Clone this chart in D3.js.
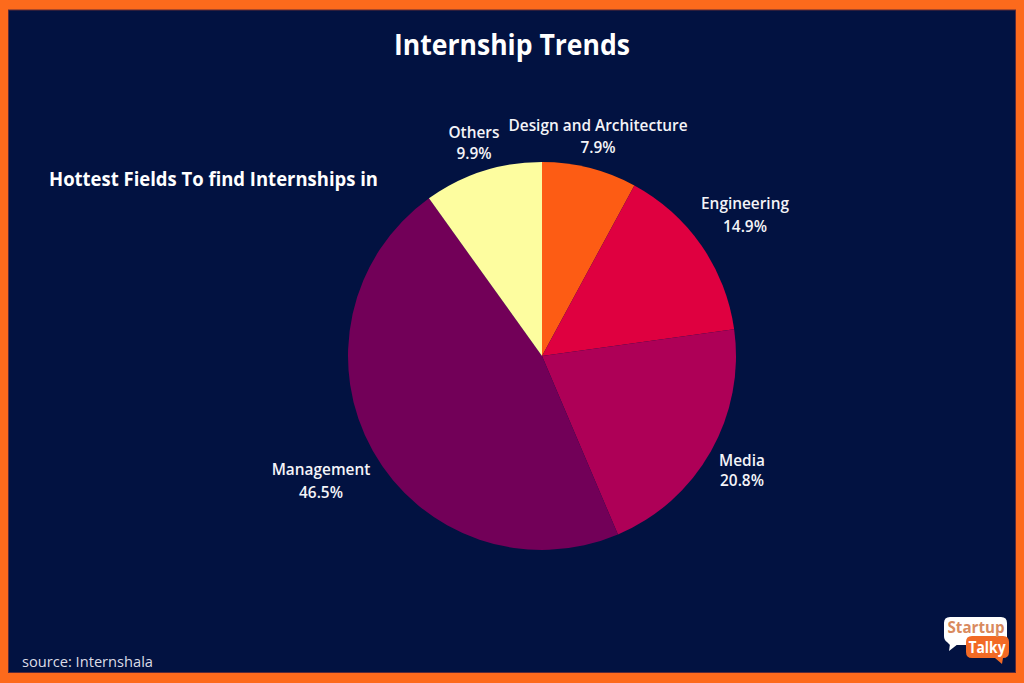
<!DOCTYPE html>
<html><head><meta charset="utf-8">
<script src="https://cdnjs.cloudflare.com/ajax/libs/d3/7.8.5/d3.min.js"></script>
<style>html,body{margin:0;padding:0;background:#fff}svg{display:block}text{font-family:"Open Sans",sans-serif}</style>
</head><body><div id="c"></div>
<script>
const categories=["Design and Architecture","Engineering","Media","Management","Others"];
const values=[7.9,14.9,20.8,46.5,9.9];
const colors=["#fd5c14","#df0040","#ae0057","#720058","#fdfd9f"];
const labelX=[598,745,742,321,474];
const nameY=[131,209,466,475,138];
const pctY=[153,232,486,498,159];
const W=1024,H=683,cx=542,cy=356,R=194;
const svg=d3.select("#c").append("svg").attr("width",W).attr("height",H);
svg.append("rect").attr("width",W).attr("height",H).attr("fill","#fd6a1c");
svg.append("rect").attr("x",8.5).attr("y",10).attr("width",1007).attr("height",662.5).attr("fill","#021241").attr("stroke","#5c2a38").attr("stroke-width",1);
const pie=d3.pie().sort(null).value(d=>d)(values);
const arc=d3.arc().innerRadius(0).outerRadius(R);
svg.append("g").attr("transform",`translate(${cx},${cy})`).selectAll("path").data(pie).join("path").attr("d",arc).attr("fill",(d,i)=>colors[i]);
const lab=svg.append("g").attr("fill","#f4f4f8").attr("font-size",15.4).attr("font-weight",600).attr("text-anchor","middle");
categories.forEach((c,i)=>{
  lab.append("text").attr("x",labelX[i]).attr("y",nameY[i]).text(c);
  lab.append("text").attr("x",labelX[i]).attr("y",pctY[i]).text(values[i].toFixed(1)+"%");
});
svg.append("text").attr("x",512).attr("y",55).attr("text-anchor","middle").attr("fill","#fff").attr("font-size",28).attr("font-weight",700).attr("textLength",236).attr("lengthAdjust","spacingAndGlyphs").text("Internship Trends");
svg.append("text").attr("x",49).attr("y",186).attr("fill","#fff").attr("font-size",20).attr("font-weight",700).attr("textLength",329).attr("lengthAdjust","spacingAndGlyphs").text("Hottest Fields To find Internships in");
svg.append("text").attr("x",22).attr("y",667).attr("fill","#dcdce6").attr("font-size",15).attr("textLength",131).attr("lengthAdjust","spacingAndGlyphs").text("source: Internshala");
// logo
const g=svg.append("g");
g.append("path").attr("d","M950 617 H1001 Q1007 617 1007 623 V639 Q1007 645 1001 645 H956 L950 645 L947 642 Q944 640 944 636 V623 Q944 617 950 617Z").attr("fill","#fff");
g.append("path").attr("d","M950 644 L949 651 L958 644Z").attr("fill","#fff");
g.append("path").attr("d","M972 636 H1003 Q1009 636 1009 642 V652 Q1009 658 1003 658 L1002 664 L995 658 H972 Q966 658 966 652 V642 Q966 636 972 636Z").attr("fill","#f26a25");
g.append("text").attr("x",976).attr("y",633).attr("text-anchor","middle").attr("font-size",16).attr("font-weight",700).attr("fill","#d98a5e").attr("textLength",57).attr("lengthAdjust","spacingAndGlyphs").text("Startup");
g.append("text").attr("x",987).attr("y",653).attr("text-anchor","middle").attr("font-size",16).attr("font-weight",700).attr("fill","#fff").attr("textLength",37).attr("lengthAdjust","spacingAndGlyphs").text("Talky");
</script></body></html>
